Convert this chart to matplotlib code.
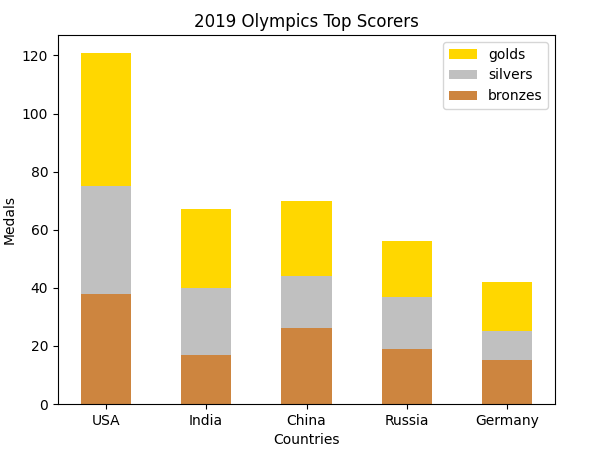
import matplotlib
matplotlib.use("Agg")
import matplotlib.pyplot as plt
import numpy as np

countries = ["USA", "India", "China", "Russia", "Germany"]
bronzes = np.array([38, 17, 26, 19, 15])
silvers = np.array([37, 23, 18, 18, 10])
golds = np.array([46, 27, 26, 19, 17])

fig = plt.figure(figsize=(5.98, 4.57), dpi=100)
ax = fig.add_axes([58/598, 53/457, (555-58)/598, (404-35)/457])
ind = np.arange(len(countries))
ax.bar(ind, golds, width=0.5, label="golds", color="gold", bottom=silvers + bronzes)
ax.bar(ind, silvers, width=0.5, label="silvers", color="silver", bottom=bronzes)
ax.bar(ind, bronzes, width=0.5, label="bronzes", color="#CD853F")
ax.set_xticks(ind)
ax.set_xticklabels(countries)
ax.set_ylabel("Medals")
ax.set_xlabel("Countries")
ax.set_title("2019 Olympics Top Scorers")
ax.legend(loc="upper right")
fig.savefig("out.png", dpi=100)
